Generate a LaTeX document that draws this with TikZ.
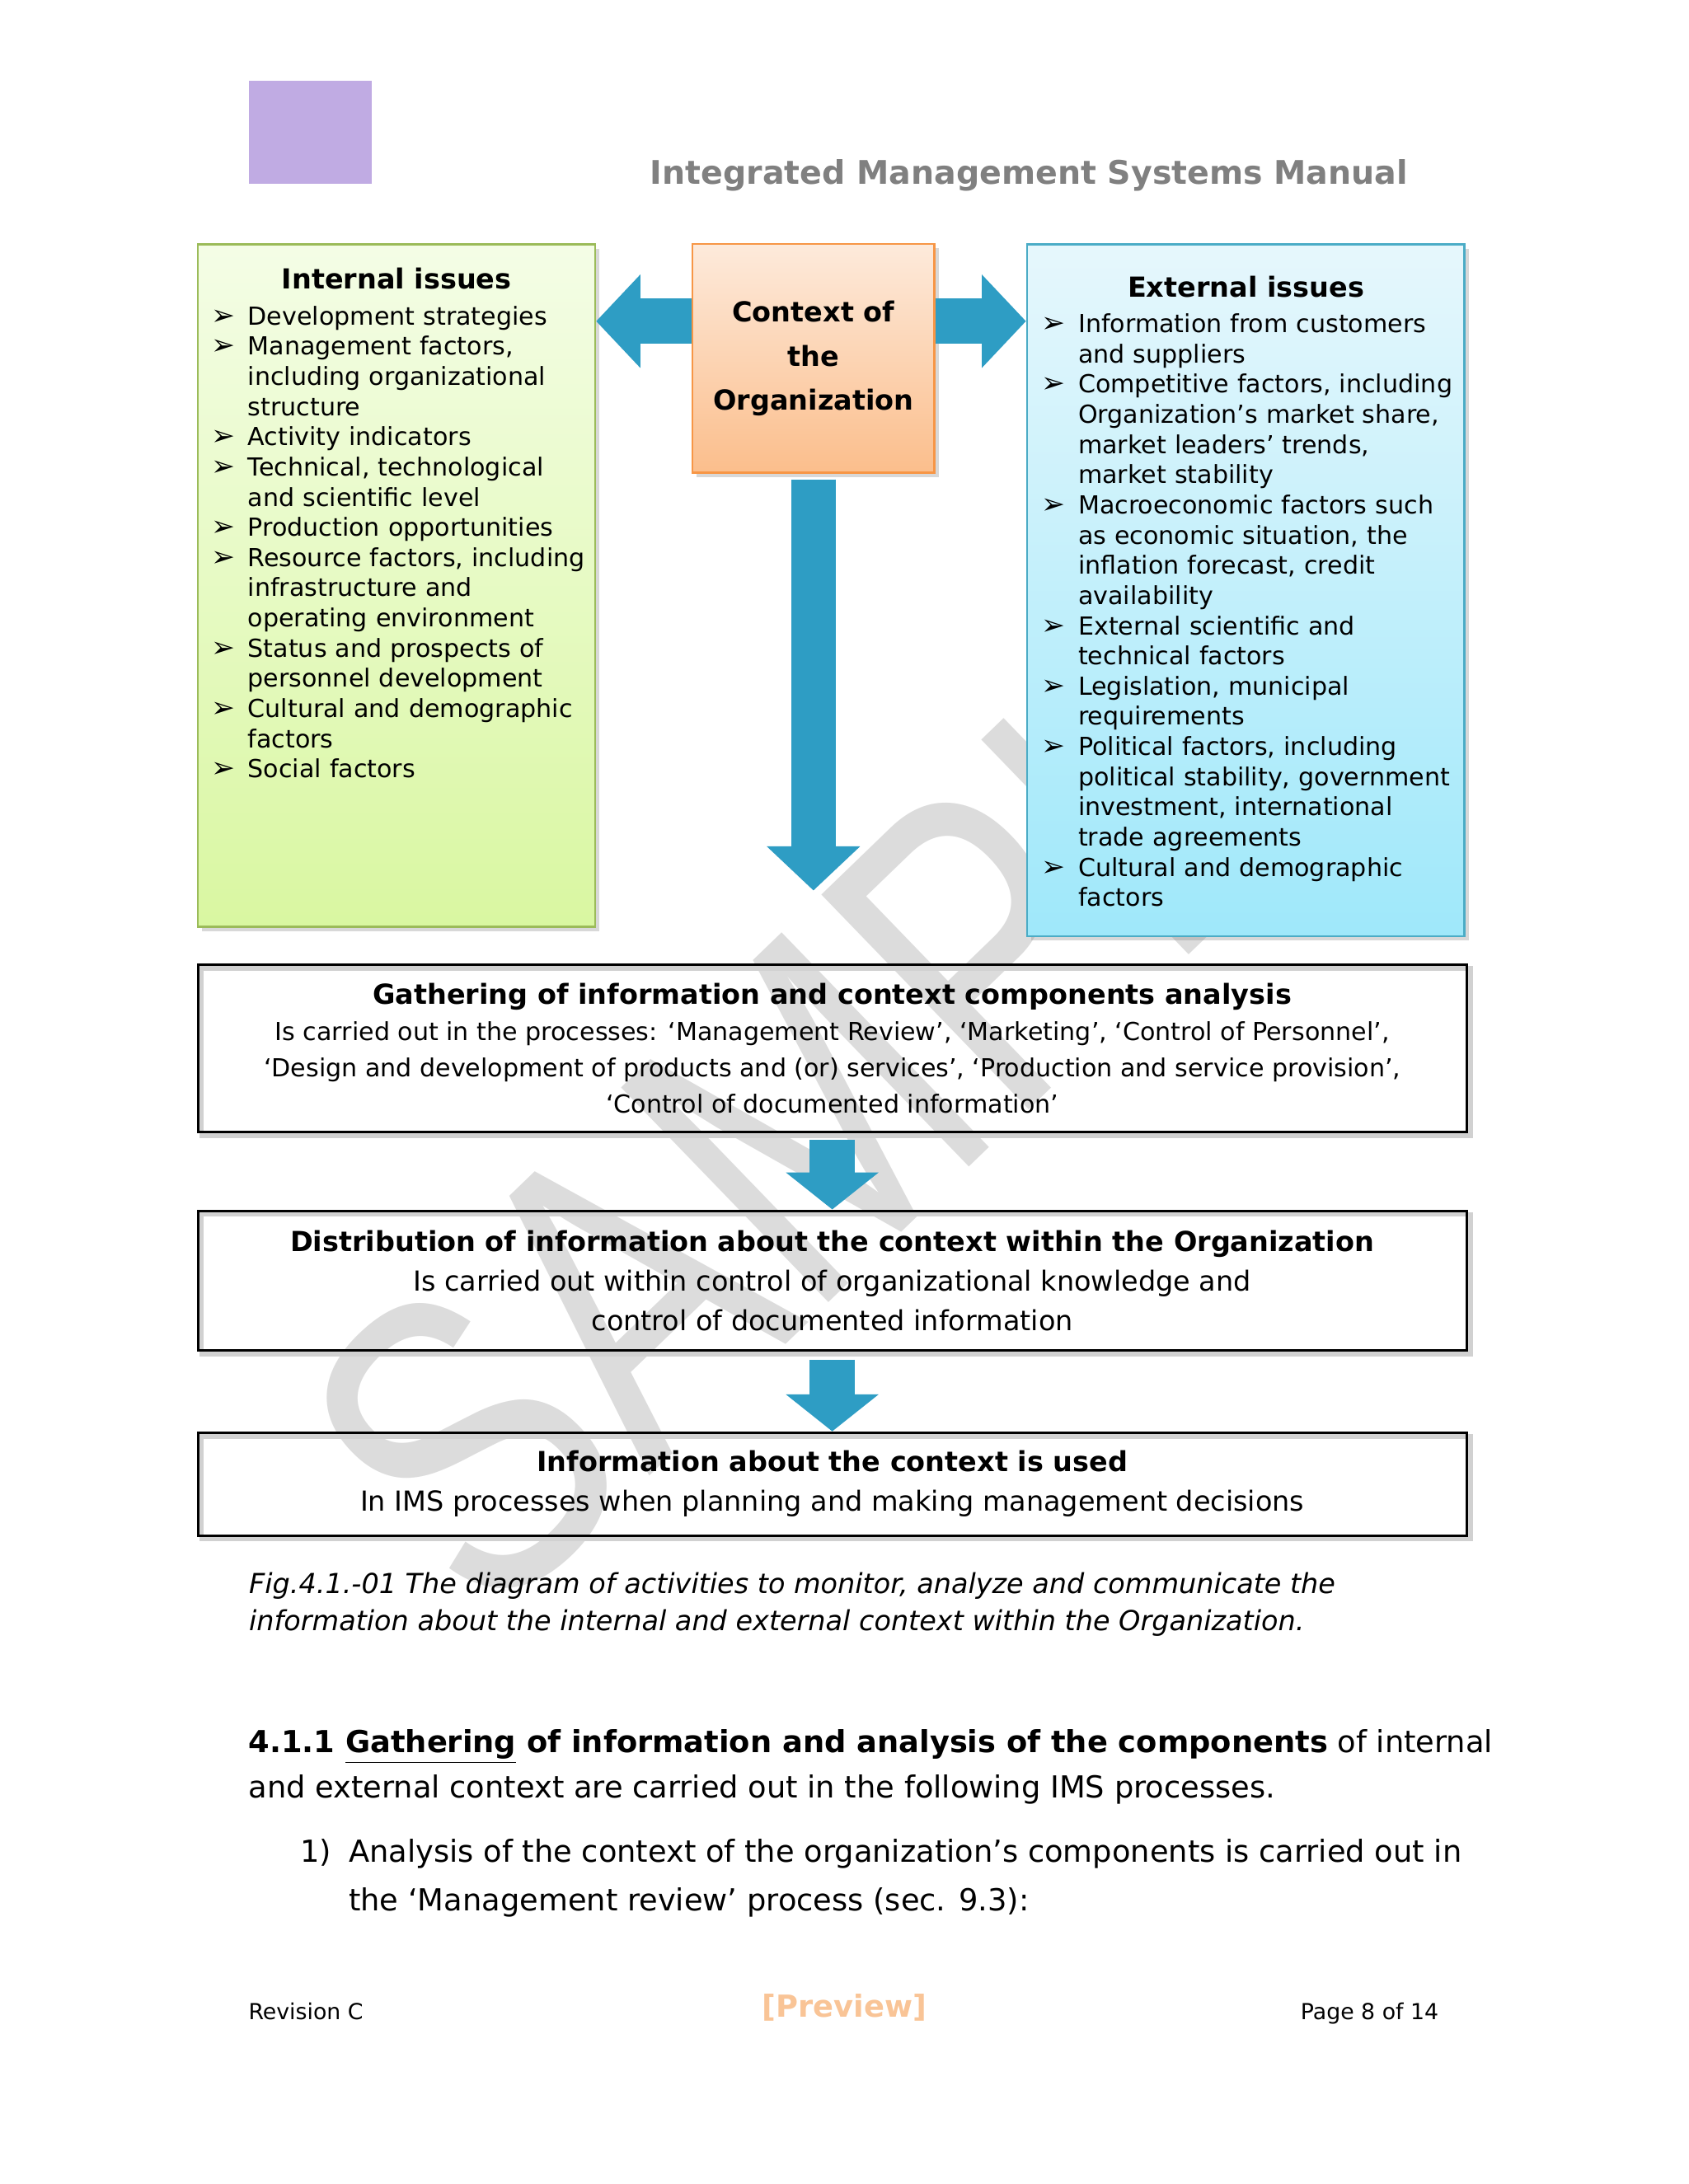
\documentclass[tikz,border=0pt]{standalone}
\usepackage{graphicx}
\usepackage{fontspec}
\setmainfont{DejaVu Sans}
\newfontfamily\wmfont{Liberation Sans}
\usetikzlibrary{arrows.meta,calc,shadows}

\definecolor{intedge}{HTML}{9BBB59}
\definecolor{inttop}{HTML}{F4FDE6}
\definecolor{intbot}{HTML}{D9F7A1}
\definecolor{ctxedge}{HTML}{F79646}
\definecolor{ctxtop}{HTML}{FDEADB}
\definecolor{ctxbot}{HTML}{FBBE8C}
\definecolor{extedge}{HTML}{4BACC6}
\definecolor{exttop}{HTML}{E6F7FC}
\definecolor{extbot}{HTML}{9FE8FA}
\definecolor{arrowblue}{HTML}{2E9DC4}
\definecolor{headgray}{HTML}{808080}
\definecolor{logopurple}{HTML}{C0ABE3}
\definecolor{previewcol}{HTML}{F9C496}
\definecolor{wmgray}{HTML}{DCDCDC}

\newcommand{\bul}{\makebox[13.2pt][l]{\scalebox{1.15}{➢}}}
\newcommand{\itm}[1]{\hangindent=13.2pt\hangafter=1\noindent\bul#1\par}

\begin{document}
\begin{tikzpicture}[x=0.505pt, y=-0.505pt,
  issuebox/.style={rectangle, draw, line width=0.8pt, inner sep=0pt,
                   drop shadow={shadow xshift=1.6pt, shadow yshift=-1.6pt, opacity=0.3}},
  boxtitle/.style={anchor=base, inner sep=0pt, font=\fontsize{10}{12}\selectfont\bfseries},
  issuelist/.style={anchor=base west, inner sep=0pt, text width=165pt, align=left,
                    font=\fontsize{9}{10.95}\selectfont},
  procbox/.style={rectangle, draw=black, line width=0.9pt, minimum width=459.9pt,
                  inner sep=0pt, align=center,
                  preaction={draw=black!18, line width=1.6pt,
                             transform canvas={xshift=1.4pt, yshift=-1.4pt}}},
  sidearrow/.style={draw=arrowblue, line width=16.3pt, -{Triangle[length=16pt, width=32.9pt]}},
  steparrow/.style={draw=arrowblue, line width=16.3pt, -{Triangle[length=13.4pt, width=32.9pt]}},
  pagetext/.style={anchor=base west, inner sep=0pt, font=\fontsize{11}{13}\selectfont}
]
\useasboundingbox (0,0) rectangle (1212,1568);
\fill[white] (0,0) rectangle (1212,1568);

% Watermark
\node[text=wmgray, font=\wmfont\fontsize{121}{121}\selectfont, rotate=44, yscale=1.3, inner sep=0pt]
  (wm) at (626,756) {SAMPLE};

% Page header
\fill[logopurple] (178.6,57.8) rectangle (266.9,132.2);
\node[anchor=base east, inner sep=0pt, text=headgray, font=\fontsize{11.8}{14}\selectfont\bfseries]
  (header) at (1011,132.2) {Integrated Management Systems Manual};

% Layer 1: context and issues
\node[issuebox, draw=intedge, top color=inttop, bottom color=intbot,
      minimum width=144pt, minimum height=247.3pt] (int) at (284.55,420.45) {};
\node[issuebox, draw=ctxedge, top color=ctxtop, bottom color=ctxbot,
      minimum width=87.8pt, minimum height=83pt, align=center,
      font=\fontsize{10}{15.9}\selectfont\bfseries] (ctx) at (583.9,257.35)
  {Context of\\the\\Organization};
\node[issuebox, draw=extedge, top color=exttop, bottom color=extbot,
      minimum width=158.5pt, minimum height=250.7pt] (ext) at (894.2,423.85) {};

\node[boxtitle] (inttitle) at (284.7,207.2) {Internal issues};
\node[issuelist] (intlist) at (151.4,233.2) {%
  \itm{Development strategies}
  \itm{Management factors,\newline including organizational\newline structure}
  \itm{Activity indicators}
  \itm{Technical, technological\newline and scientific level}
  \itm{Production opportunities}
  \itm{Resource factors, including\newline infrastructure and\newline operating environment}
  \itm{Status and prospects of\newline personnel development}
  \itm{Cultural and demographic\newline factors}
  \itm{Social factors}};

\node[boxtitle] (exttitle) at (894.4,213.2) {External issues};
\node[issuelist] (extlist) at (747.5,238.8) {%
  \itm{Information from customers\newline and suppliers}
  \itm{Competitive factors, including\newline Organization’s market share,\newline market leaders’ trends,\newline market stability}
  \itm{Macroeconomic factors such\newline as economic situation, the\newline inflation forecast, credit\newline availability}
  \itm{External scientific and\newline technical factors}
  \itm{Legislation, municipal\newline requirements}
  \itm{Political factors, including\newline political stability, government\newline investment, international\newline trade agreements}
  \itm{Cultural and demographic\newline factors}};

% Layer 2: processes
\node[procbox, minimum height=60.6pt, font=\fontsize{9}{13.2}\selectfont] (gath) at (597.4,752.5)
  {{\fontsize{10}{13.2}\selectfont\bfseries Gathering of information and context components analysis}\\
   Is carried out in the processes: ‘Management Review’, ‘Marketing’, ‘Control of Personnel’,\\
   ‘Design and development of products and (or) services’, ‘Production and service provision’,\\
   ‘Control of documented information’};
\node[procbox, minimum height=50.6pt, font=\fontsize{10}{14.3}\selectfont] (dist) at (597.4,919.3)
  {\textbf{Distribution of information about the context within the Organization}\\
   Is carried out within control of organizational knowledge and\\
   control of documented information};
\node[procbox, minimum height=37.3pt, font=\fontsize{10}{14.3}\selectfont] (used) at (597.4,1065.45)
  {\textbf{Information about the context is used}\\
   In IMS processes when planning and making management decisions};

% Arrows
\coordinate (ctxL) at ([yshift=-28.4pt]ctx.north west);
\coordinate (ctxR) at ([yshift=-28.4pt]ctx.north east);
\draw[sidearrow] (ctxL) -- (ctxL -| int.east);
\draw[sidearrow] (ctxR) -- (ctxR -| ext.west);
\draw[sidearrow, shorten <=1.9pt, shorten >=26.4pt] (ctx.south) -- (ctx.south |- gath.north);
\draw[steparrow, shorten <=2.6pt] (gath) -- (dist);
\draw[steparrow, shorten <=3pt] (dist) -- (used);

% Caption and text
\node[anchor=base west, inner sep=0pt, font=\fontsize{10}{13}\selectfont\itshape] (cap1) at (178.4,1143.8)
  {Fig.4.1.-01 The diagram of activities to monitor, analyze and communicate the};
\node[anchor=base west, inner sep=0pt, font=\fontsize{10}{13}\selectfont\itshape] (cap2) at (178.4,1170.4)
  {information about the internal and external context within the Organization.};

\node[pagetext] (par1) at (178,1258)
  {\textbf{4.1.1 \underline{Gathering} of information and analysis of the components} of internal};
\node[pagetext] (par2) at (178,1291)
  {and external context are carried out in the following IMS processes.};
\node[pagetext] (num1) at (215,1337) {1)};
\node[pagetext] (item1a) at (250,1337)
  {Analysis of the context of the organization’s components is carried out in};
\node[pagetext] (item1b) at (250,1372) {the ‘Management review’ process (sec. 9.3):};

% Footer
\node[anchor=base west, inner sep=0pt, font=\fontsize{8}{10}\selectfont] (rev) at (178,1450) {Revision C};
\node[anchor=base, inner sep=0pt, text=previewcol, font=\fontsize{11}{13}\selectfont\bfseries]
  (preview) at (606,1448) {[Preview]};
\node[anchor=base east, inner sep=0pt, font=\fontsize{8}{10}\selectfont] (page) at (1033,1450) {Page 8 of 14};
\end{tikzpicture}
\end{document}
